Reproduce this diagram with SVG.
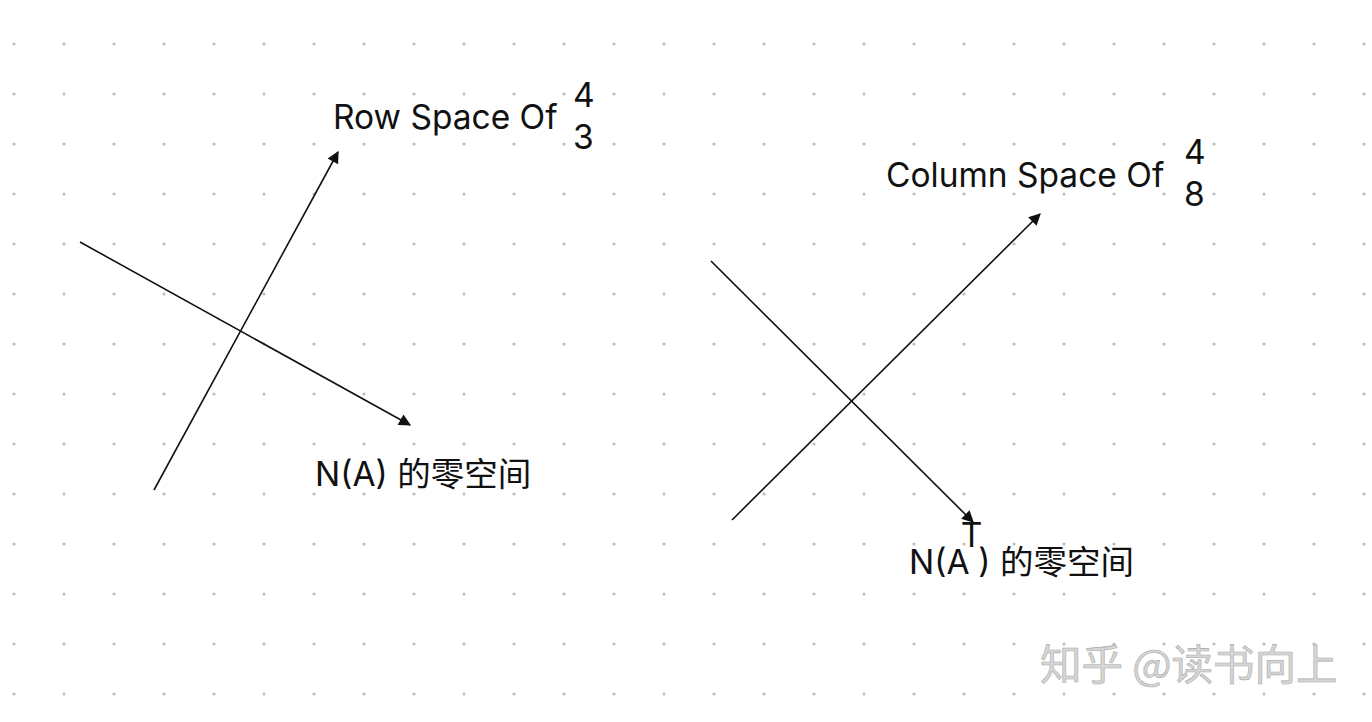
<svg xmlns="http://www.w3.org/2000/svg" width="1372" height="722" viewBox="0 0 1372 722">
<style>
text{font-family:"Inter","Liberation Sans","Noto Sans CJK SC",sans-serif;font-size:33.5px;fill:#111}
.ln{stroke:#111;stroke-width:1.6;fill:none}
.wm{font-family:"Noto Sans CJK SC",sans-serif;font-size:41.5px;fill:#d6d6d6;stroke:#aaa;stroke-width:0.6}
</style>
<defs>
<pattern id="grid" x="14" y="44" width="50" height="50" patternUnits="userSpaceOnUse">
<circle cx="0" cy="0" r="1.6" fill="#bdbdbd"/><circle cx="50" cy="0" r="1.6" fill="#bdbdbd"/><circle cx="0" cy="50" r="1.6" fill="#bdbdbd"/><circle cx="50" cy="50" r="1.6" fill="#bdbdbd"/>
</pattern>
<marker id="ah" viewBox="0 0 10 10" refX="9" refY="5" markerWidth="13" markerHeight="12" markerUnits="userSpaceOnUse" orient="auto"><path d="M0,0L10,5L0,10z" fill="#111"/></marker>
</defs>
<rect width="1372" height="722" fill="#fff"/>
<rect width="1372" height="722" fill="url(#grid)"/>
<g id="connectors">
<line class="ln" x1="80" y1="242" x2="410" y2="425" marker-end="url(#ah)"/>
<line class="ln" x1="154" y1="490" x2="338" y2="152" marker-end="url(#ah)"/>
<line class="ln" x1="711" y1="261" x2="973" y2="522" marker-end="url(#ah)"/>
<line class="ln" x1="732" y1="520" x2="1040" y2="214" marker-end="url(#ah)"/>
</g>
<g id="row-space"><text x="333" y="129">Row Space Of</text><text x="573" y="107">4</text><text x="573" y="149">3</text></g>
<g id="col-space"><text x="886" y="187">Column Space Of</text><text x="1184" y="164">4</text><text x="1184" y="206">8</text></g>
<g id="null-a"><text x="315" y="486">N(A) 的零空间</text></g>
<g id="null-at"><text x="909" y="574">N(A<tspan dx="-6" dy="-27">T</tspan><tspan dx="-4" dy="27">) 的零空间</tspan></text></g>
<text class="wm" x="1040" y="680">知乎 @读书向上</text>
</svg>
